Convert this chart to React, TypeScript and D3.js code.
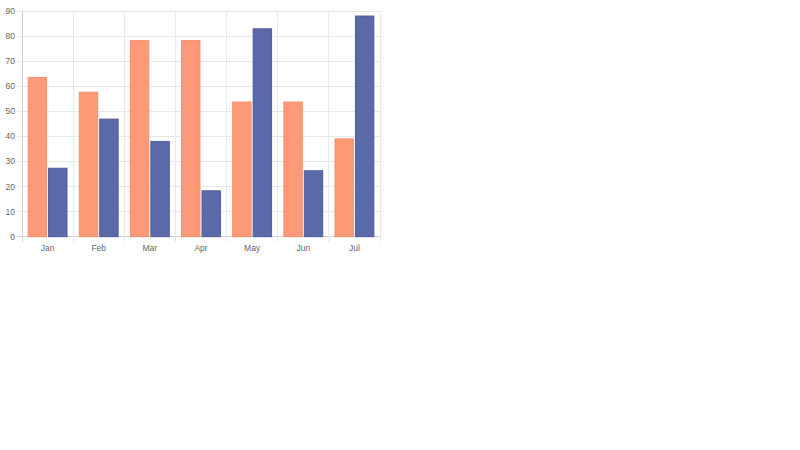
import { useEffect, useRef } from 'react';
import * as d3 from 'd3';

const months = ['Jan', 'Feb', 'Mar', 'Apr', 'May', 'Jun', 'Jul'];
const seriesA = [63.5, 57.6, 78.2, 78.2, 53.7, 53.7, 39];
const seriesB = [27.3, 46.9, 38, 18.3, 82.9, 26.3, 88];
const yTicks = [0, 10, 20, 30, 40, 50, 60, 70, 80, 90];

export default function App() {
  const svgRef = useRef<SVGSVGElement | null>(null);

  useEffect(() => {
    if (!svgRef.current) return;
    const root = d3.select(svgRef.current);
    root.selectAll('*').remove();

    const left = 22, right = 380, top = 11, bottom = 236.7;

    const x = d3.scaleBand<string>().domain(months).range([left, right]).paddingInner(0).paddingOuter(0);
    const y = d3.scaleLinear().domain([0, 90]).range([bottom, top]);

    const catW = x.bandwidth();
    const groupW = catW * 0.8;
    const barW = (groupW / 2) * 0.9;

    // grid
    const grid = root.append('g');
    yTicks.forEach(t => {
      grid.append('line')
        .attr('x1', left - 5).attr('x2', right)
        .attr('y1', y(t)).attr('y2', y(t))
        .attr('stroke', t === 0 ? '#d0d0d0' : '#e8e8e8')
        .attr('stroke-width', 1)
        .attr('shape-rendering', 'crispEdges');
    });
    const xs = months.map(m => x(m) as number).concat([right]);
    xs.forEach((xv, i) => {
      grid.append('line')
        .attr('x1', xv).attr('x2', xv)
        .attr('y1', top).attr('y2', bottom + 5)
        .attr('stroke', i === 0 ? '#d0d0d0' : '#e8e8e8')
        .attr('stroke-width', 1)
        .attr('shape-rendering', 'crispEdges');
    });

    // y labels
    root.append('g').selectAll('text').data(yTicks).enter().append('text')
      .attr('x', left - 7)
      .attr('y', d => y(d))
      .attr('dy', '0.35em')
      .attr('text-anchor', 'end')
      .attr('font-family', 'Liberation Sans, Arial, sans-serif')
      .attr('font-size', 8.5)
      .attr('fill', '#666')
      .text(d => d);

    // x labels
    root.append('g').selectAll('text').data(months).enter().append('text')
      .attr('x', d => (x(d) as number) + catW / 2)
      .attr('y', bottom + 14)
      .attr('text-anchor', 'middle')
      .attr('font-family', 'Liberation Sans, Arial, sans-serif')
      .attr('font-size', 8.5)
      .attr('fill', '#666')
      .text(d => d);

    const series = [
      { values: seriesA, fill: '#fc9a77', stroke: '#f58f6c' },
      { values: seriesB, fill: '#5a69a8', stroke: '#4f5e9c' },
    ];

    series.forEach((s, si) => {
      root.append('g').selectAll('rect').data(s.values).enter().append('rect')
        .attr('x', (_, i) => (x(months[i]) as number) + (catW - groupW) / 2 + si * (groupW / 2) + (groupW / 2 - barW) / 2)
        .attr('y', d => y(d))
        .attr('width', barW)
        .attr('height', d => bottom - y(d))
        .attr('fill', s.fill)
        .attr('stroke', s.stroke)
        .attr('stroke-width', 1);
    });
  }, []);

  return (
    <svg
      ref={svgRef}
      width={800}
      height={450}
      style={{ position: 'absolute', left: 0, top: 0, display: 'block' }}
    />
  );
}
